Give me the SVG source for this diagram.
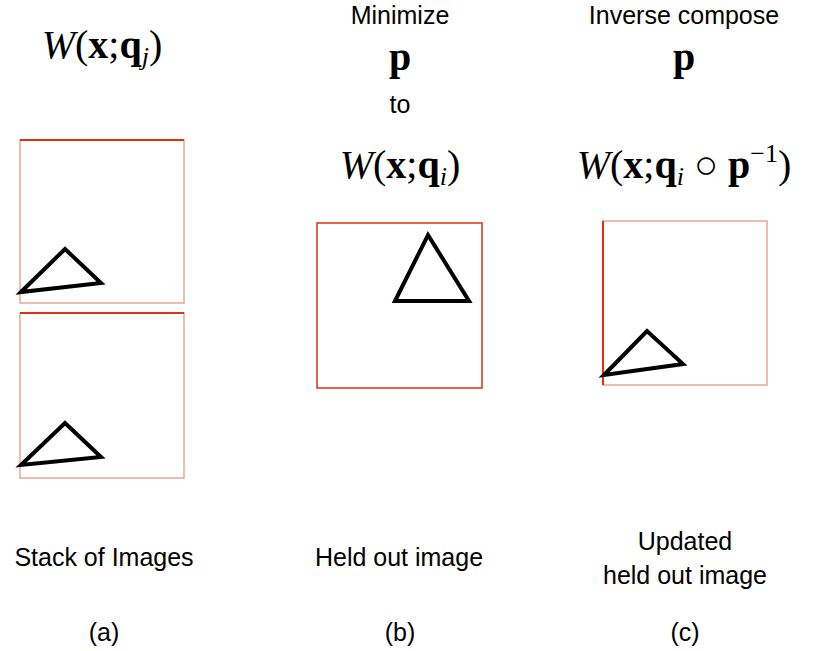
<svg xmlns="http://www.w3.org/2000/svg" width="822" height="651" viewBox="0 0 822 651">
<style>
.l{font-family:"Liberation Sans",Arial,sans-serif;font-size:25px;fill:#000;text-anchor:middle}
.m{font-family:"Liberation Serif","DejaVu Serif",serif;font-size:40px;fill:#000;text-anchor:middle}
.b{font-weight:bold;font-style:normal}
.i{font-style:italic}
.box{fill:none;stroke:#e8a898;stroke-width:1.5}
.red{stroke:#dd3311}
.edge{stroke:#dd3311;stroke-width:2}
.tri{fill:none;stroke:#000;stroke-width:4;stroke-linejoin:miter}
</style>
<rect width="822" height="651" fill="#fff"/>
<g id="labels">
<text class="m" x="102" y="58"><tspan class="i">W</tspan>(<tspan class="b">x</tspan>;<tspan class="b">q</tspan><tspan class="i" font-size="26" dy="7">j</tspan><tspan dy="-7">)</tspan></text>
<text class="l" x="400" y="24">Minimize</text>
<text class="m b" x="400" y="70">p</text>
<text class="l" x="400" y="113">to</text>
<text class="m" x="400" y="178"><tspan class="i">W</tspan>(<tspan class="b">x</tspan>;<tspan class="b">q</tspan><tspan class="i" font-size="26" dy="7">i</tspan><tspan dy="-7">)</tspan></text>
<text class="l" x="684" y="24">Inverse compose</text>
<text class="m b" x="684" y="70">p</text>
<text class="m" x="684" y="178"><tspan class="i">W</tspan>(<tspan class="b">x</tspan>;<tspan class="b">q</tspan><tspan class="i" font-size="26" dy="7">i</tspan><tspan dy="-7" font-weight="normal"> ○ </tspan><tspan class="b">p</tspan><tspan font-size="26" dy="-16">−1</tspan><tspan dy="16">)</tspan></text>
<text class="l" x="104" y="566">Stack of Images</text>
<text class="l" x="399" y="566">Held out image</text>
<text class="l" x="685" y="550">Updated</text>
<text class="l" x="685" y="584">held out image</text>
<text class="l" x="104" y="641">(a)</text>
<text class="l" x="400" y="641">(b)</text>
<text class="l" x="685" y="641">(c)</text>
</g>
<g id="stack1">
<rect class="box" x="20" y="140" width="164" height="163"/>
<line class="edge" x1="20" y1="140" x2="184" y2="140"/>
<polygon class="tri" points="21,292 65,249 101,283"/>
</g>
<g id="stack2">
<rect class="box" x="20" y="313" width="164" height="165"/>
<line class="edge" x1="20" y1="313" x2="184" y2="313"/>
<polygon class="tri" points="21,465 65,423 101,457"/>
</g>
<g id="heldout">
<rect class="box red" x="317" y="223" width="165" height="165"/>
<polygon class="tri" points="395,301 428,235 469,301"/>
</g>
<g id="updated">
<rect class="box" x="603" y="221" width="164" height="164"/>
<line class="edge" x1="603" y1="221" x2="603" y2="385"/>
<polygon class="tri" points="604,375 647,331 683,364"/>
</g>
<g id="connectors"/>
</svg>
